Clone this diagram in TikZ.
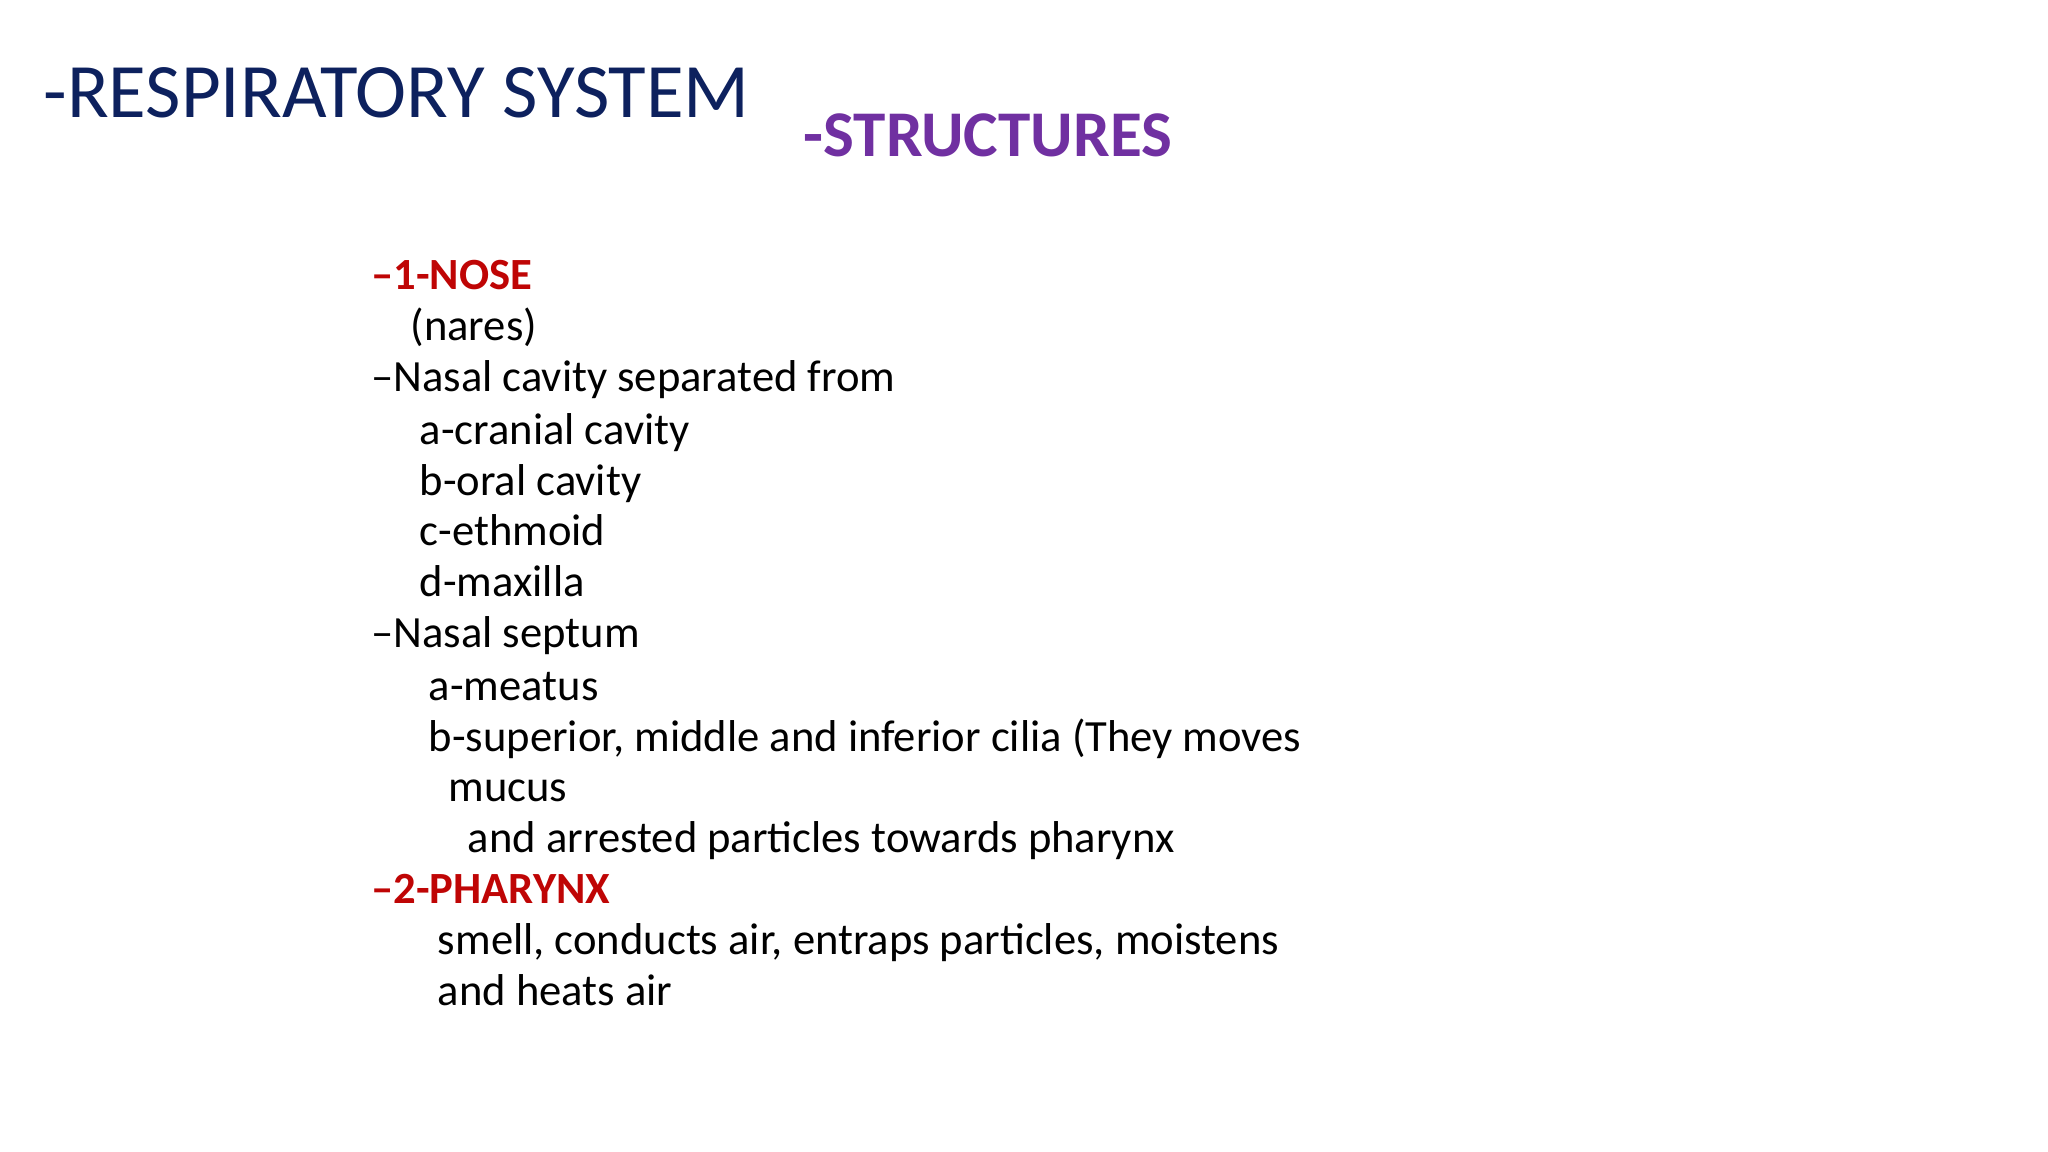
\documentclass[tikz,border=0pt]{standalone}
\usepackage{fontspec}
\setmainfont{Carlito}
\definecolor{navy}{rgb}{0.05,0.13,0.37}
\definecolor{purp}{rgb}{0.44,0.19,0.63}
\definecolor{redh}{rgb}{0.75,0.02,0.02}
\begin{document}
\begin{tikzpicture}[x=0.653pt,y=-0.653pt,
  body/.style={anchor=base west,inner sep=0pt,font=\fontsize{22.3}{26}\selectfont},
  head/.style={body,text=redh,font=\fontsize{22.3}{26}\selectfont\bfseries}]
\useasboundingbox (0,0) rectangle (1568,882);
\node[anchor=base west,inner sep=0pt,text=navy,font=\fontsize{38.5}{44}\selectfont] (t) at (33,90) {-RESPIRATORY SYSTEM};
\node[anchor=base west,inner sep=0pt,text=purp,font=\fontsize{32.6}{38}\selectfont\bfseries] (s) at (615,120) {-STRUCTURES};
\node[head] (l1) at (284,222) {--1-NOSE};
\node[body] (l2) at (314,261) {(nares)};
\node[body] (l3) at (284,300) {--Nasal cavity separated from};
\node[body] (l4) at (321,340) {a-cranial cavity};
\node[body] (l5) at (321,379) {b-oral cavity};
\node[body] (l6) at (321,418) {c-ethmoid};
\node[body] (l7) at (321,457) {d-maxilla};
\node[body] (l8) at (284,496) {--Nasal septum};
\node[body] (l9) at (328,536) {a-meatus};
\node[body] (l10) at (328,575) {b-superior, middle and inferior cilia (They moves};
\node[body] (l11) at (343,614) {mucus};
\node[body] (l12) at (358,653) {and arrested particles towards pharynx};
\node[head] (l13) at (284,692) {--2-PHARYNX};
\node[body] (l14) at (335,731) {smell, conducts air, entraps particles, moistens};
\node[body] (l15) at (335,770) {and heats air};
\end{tikzpicture}
\end{document}
